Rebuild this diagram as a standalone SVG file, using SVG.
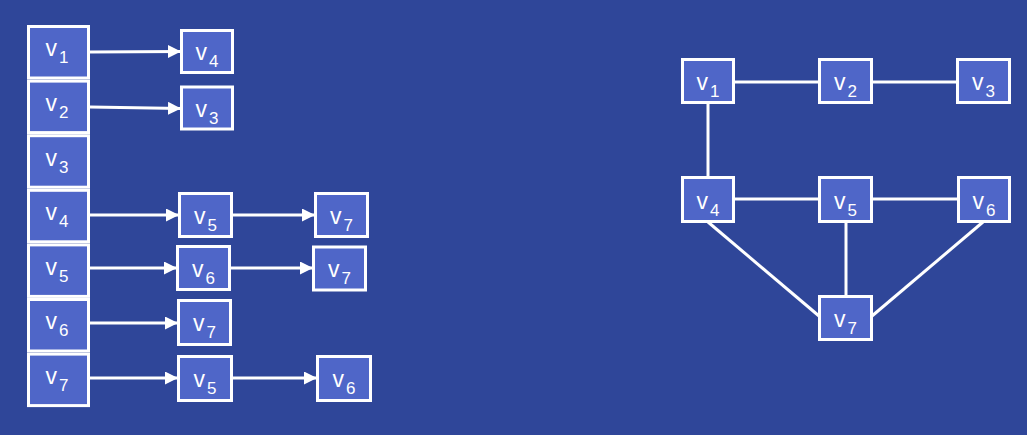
<svg xmlns="http://www.w3.org/2000/svg" width="1027" height="435" viewBox="0 0 1027 435">
<style>
.bg{fill:#2f4699}
.n{fill:#4f66c8;stroke:#fff;stroke-width:3}
.t{font-family:"Liberation Sans",Arial,sans-serif;font-size:23px;fill:#fff;text-anchor:middle}
.s{font-size:17px}
.e{stroke:#fff;stroke-width:3;fill:none}
.a{stroke:#fff;stroke-width:3;fill:none;marker-end:url(#ah)}
</style>
<defs>
<marker id="ah" markerWidth="14" markerHeight="14" refX="13" refY="6.5" orient="auto" markerUnits="userSpaceOnUse">
<path d="M0,0 L13,6.5 L0,13 Z" fill="#fff"/>
</marker>
</defs>
<rect class="bg" x="0" y="0" width="1027" height="435"/>
<g id="connectors">
<line class="a" x1="90" y1="52" x2="181" y2="51.5"/>
<line class="a" x1="90" y1="107" x2="181" y2="108.5"/>
<line class="a" x1="90" y1="215" x2="179" y2="215"/>
<line class="a" x1="232" y1="215" x2="315" y2="215"/>
<line class="a" x1="90" y1="268" x2="177" y2="268"/>
<line class="a" x1="231" y1="268" x2="313" y2="268"/>
<line class="a" x1="90" y1="323" x2="178" y2="323"/>
<line class="a" x1="90" y1="378" x2="178" y2="378"/>
<line class="a" x1="232" y1="378" x2="317" y2="378"/>
<line class="e" x1="734" y1="82" x2="819" y2="82"/>
<line class="e" x1="872" y1="82" x2="957" y2="82"/>
<line class="e" x1="708" y1="103" x2="708" y2="177"/>
<line class="e" x1="734" y1="199" x2="819" y2="199"/>
<line class="e" x1="872" y1="199" x2="958" y2="199"/>
<line class="e" x1="846" y1="222" x2="846" y2="296"/>
<line class="e" x1="708" y1="222" x2="819" y2="316"/>
<line class="e" x1="983" y1="222" x2="872" y2="316"/>
</g>
<g id="list-v1"><rect class="n" x="28.5" y="26.5" width="60" height="51.5"/><text class="t" x="57" y="56">v<tspan class="s" dx="2" dy="7">1</tspan></text></g>
<g id="list-v2"><rect class="n" x="28.5" y="81.1" width="60" height="51.5"/><text class="t" x="57" y="111">v<tspan class="s" dx="2" dy="7">2</tspan></text></g>
<g id="list-v3"><rect class="n" x="28.5" y="135.7" width="60" height="51.5"/><text class="t" x="57" y="165.5">v<tspan class="s" dx="2" dy="7">3</tspan></text></g>
<g id="list-v4"><rect class="n" x="28.5" y="190.3" width="60" height="51.5"/><text class="t" x="57" y="220">v<tspan class="s" dx="2" dy="7">4</tspan></text></g>
<g id="list-v5"><rect class="n" x="28.5" y="244.9" width="60" height="51.5"/><text class="t" x="57" y="274.5">v<tspan class="s" dx="2" dy="7">5</tspan></text></g>
<g id="list-v6"><rect class="n" x="28.5" y="299.5" width="60" height="51.5"/><text class="t" x="57" y="329">v<tspan class="s" dx="2" dy="7">6</tspan></text></g>
<g id="list-v7"><rect class="n" x="28.5" y="354.1" width="60" height="51.5"/><text class="t" x="57" y="383.5">v<tspan class="s" dx="2" dy="7">7</tspan></text></g>
<g id="r1-v4"><rect class="n" x="181.5" y="30.5" width="51" height="42"/><text class="t" x="207" y="60">v<tspan class="s" dx="2" dy="7">4</tspan></text></g>
<g id="r2-v3"><rect class="n" x="181.5" y="87" width="51" height="42"/><text class="t" x="207" y="116.5">v<tspan class="s" dx="2" dy="7">3</tspan></text></g>
<g id="r4-v5"><rect class="n" x="179.5" y="193.5" width="52" height="43"/><text class="t" x="205.5" y="223.5">v<tspan class="s" dx="2" dy="7">5</tspan></text></g>
<g id="r4-v7"><rect class="n" x="315.5" y="193.5" width="52" height="43"/><text class="t" x="341.5" y="223.5">v<tspan class="s" dx="2" dy="7">7</tspan></text></g>
<g id="r5-v6"><rect class="n" x="177.5" y="246.5" width="52" height="43"/><text class="t" x="203.5" y="276.5">v<tspan class="s" dx="2" dy="7">6</tspan></text></g>
<g id="r5-v7"><rect class="n" x="313.5" y="247" width="52" height="43"/><text class="t" x="339.5" y="277">v<tspan class="s" dx="2" dy="7">7</tspan></text></g>
<g id="r6-v7"><rect class="n" x="178.5" y="300.5" width="52" height="44"/><text class="t" x="204.5" y="331">v<tspan class="s" dx="2" dy="7">7</tspan></text></g>
<g id="r7-v5"><rect class="n" x="178.5" y="356.5" width="53" height="44"/><text class="t" x="205" y="387">v<tspan class="s" dx="2" dy="7">5</tspan></text></g>
<g id="r7-v6"><rect class="n" x="317.5" y="356.5" width="53" height="44"/><text class="t" x="344" y="387">v<tspan class="s" dx="2" dy="7">6</tspan></text></g>
<g id="g-v1"><rect class="n" x="682.5" y="59.5" width="51" height="43"/><text class="t" x="708" y="90">v<tspan class="s" dx="2" dy="7">1</tspan></text></g>
<g id="g-v2"><rect class="n" x="819.5" y="59.5" width="52" height="43"/><text class="t" x="845.5" y="90">v<tspan class="s" dx="2" dy="7">2</tspan></text></g>
<g id="g-v3"><rect class="n" x="957.5" y="59.5" width="52" height="43"/><text class="t" x="983.5" y="90">v<tspan class="s" dx="2" dy="7">3</tspan></text></g>
<g id="g-v4"><rect class="n" x="682.5" y="177.5" width="51" height="44"/><text class="t" x="708" y="208.5">v<tspan class="s" dx="2" dy="7">4</tspan></text></g>
<g id="g-v5"><rect class="n" x="819.5" y="177.5" width="52" height="44"/><text class="t" x="845.5" y="208.5">v<tspan class="s" dx="2" dy="7">5</tspan></text></g>
<g id="g-v6"><rect class="n" x="958.5" y="177.5" width="51" height="44"/><text class="t" x="984" y="208.5">v<tspan class="s" dx="2" dy="7">6</tspan></text></g>
<g id="g-v7"><rect class="n" x="819.5" y="296.5" width="52" height="43"/><text class="t" x="845.5" y="327">v<tspan class="s" dx="2" dy="7">7</tspan></text></g>
</svg>
